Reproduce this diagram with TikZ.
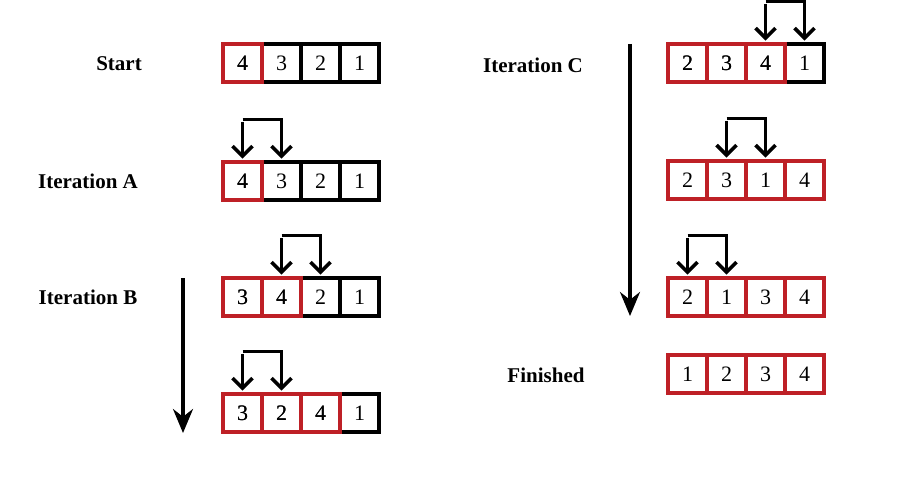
\documentclass[tikz,border=0pt]{standalone}
\usepackage{fontspec}
\setmainfont{Liberation Serif}
\usetikzlibrary{arrows.meta}
\definecolor{boxred}{RGB}{190,32,38}
\begin{document}
\begin{tikzpicture}[x=1pt,y=-1pt,
  cell/.style={draw=black,line width=3.4pt,minimum width=39pt,minimum height=38pt,inner sep=0pt,font=\fontsize{22}{22}\selectfont},
  redcell/.style={cell,draw=boxred},
  lbl/.style={font=\bfseries\fontsize{21}{21}\selectfont},
  swap/.style={line width=3.6pt,-{Straight Barb[length=10pt,width=20pt,line width=3.6pt]}},
  down/.style={line width=3.2pt,-{Stealth[length=24pt,width=20pt]}}]
\useasboundingbox (0,0) rectangle (918,500);
\newcommand{\myrow}[4]{%
  \foreach \v [count=\i] in {#4} {
    \node[cell] (#1\i) at ({#2+19.5+39*(\i-1)},{#3+19}) {\v};
  }}
\newcommand{\myred}[4]{%
  \foreach \v [count=\i] in {#4} {
    \node[redcell] (#1\i) at ({#2+19.5+39*(\i-1)},{#3+19}) {\v};
  }}
% Start
\myrow{s}{223}{44}{4,3,2,1}
\node[redcell] (s1) at (242.5,63) {4};
% A
\myrow{a}{223}{162}{4,3,2,1}
\node[redcell] (a1) at (242.5,181) {4};
% B
\myrow{b}{223}{278}{3,4,2,1}
\node[redcell] (b1) at (242.5,297) {3};
\node[redcell] (b2) at (281.5,297) {4};
% B2
\myrow{d}{223}{394}{3,2,4,1}
\node[redcell] (d1) at (242.5,413) {3};
\node[redcell] (d2) at (281.5,413) {2};
\node[redcell] (d3) at (320.5,413) {4};
% C
\myrow{c}{668}{44}{2,3,4,1}
\node[redcell] (c1) at (687.5,63) {2};
\node[redcell] (c2) at (726.5,63) {3};
\node[redcell] (c3) at (765.5,63) {4};
% C2, C3, Finished
\myred{e}{668}{161}{2,3,1,4}
\myred{f}{668}{278}{2,1,3,4}
\myred{g}{668}{355}{1,2,3,4}
% labels
\node[lbl] (ls) at (119,64) {Start};
\node[lbl] (la) at (88,181) {Iteration A};
\node[lbl] (lb) at (88,297) {Iteration B};
\node[lbl] (lc) at (533,65) {Iteration C};
\node[lbl] (lf) at (546,375) {Finished};
% swap arrows
\newcommand{\myswap}[2]{%
  \draw[swap] ([yshift=1.7pt]#1.north) ++(0,-39) -| ([yshift=1.7pt]#2.north);
  \draw[swap] ([yshift=38.7pt]#1.north) -- ([yshift=1.7pt]#1.north);}
\myswap{a1}{a2}
\myswap{b2}{b3}
\myswap{d1}{d2}
\myswap{c3}{c4}
\myswap{e2}{e3}
\myswap{f1}{f2}
% down arrows
\coordinate (bt) at (183,278);
\coordinate (bb) at (183,433);
\coordinate (ct) at (630,44);
\coordinate (cb) at (630,316);
\draw[down] (bt) -- (bb);
\draw[down] (ct) -- (cb);
\end{tikzpicture}
\end{document}
